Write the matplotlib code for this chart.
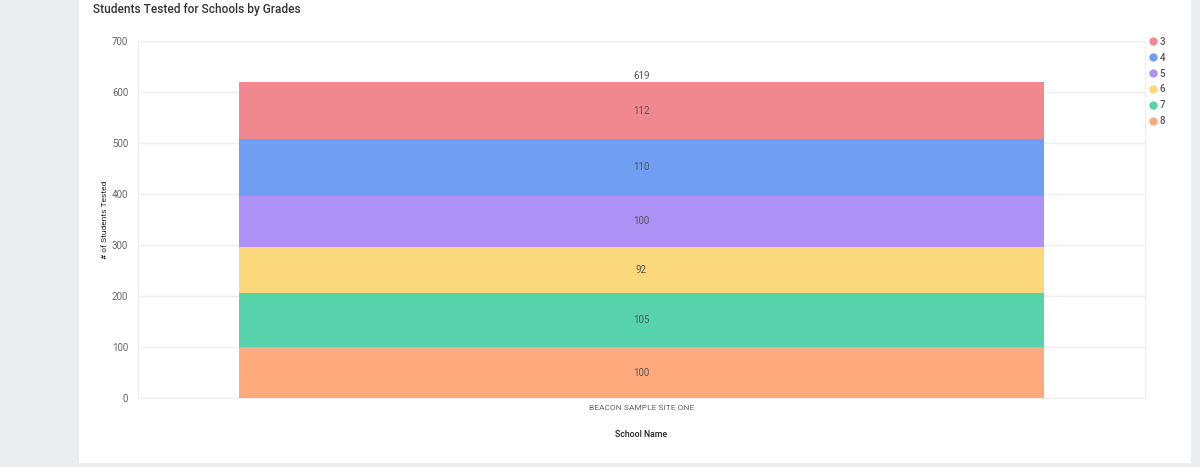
import matplotlib.pyplot as plt
from matplotlib.patches import Rectangle
from matplotlib.lines import Line2D
import numpy as np

plt.rcParams['font.family'] = ['Roboto', 'DejaVu Sans']

# data
schools = ['BEACON SAMPLE SITE ONE']
grades = ['3', '4', '5', '6', '7', '8']
# values per grade (top to bottom in the stack: 3 on top, 8 at bottom)
grade_values = {
    '3': [112],
    '4': [110],
    '5': [100],
    '6': [92],
    '7': [105],
    '8': [100],
}
grade_colors = {
    '3': '#F2888F',
    '4': '#6F9EF2',
    '5': '#AE91F5',
    '6': '#FBD87B',
    '7': '#57D3AB',
    '8': '#FFA97C',
}

fig = plt.figure(figsize=(12, 4.67), dpi=100)
fig.patch.set_facecolor('#EBEEF1')
# white card behind everything
fig.patches.append(Rectangle((79 / 1200, 1 - 463 / 467), (1191 - 79) / 1200, 463 / 467,
                             transform=fig.transFigure, facecolor='white',
                             edgecolor='none', zorder=-5))

ax = fig.add_axes([138 / 1200, 1 - 398 / 467, (1145 - 138) / 1200, (398 - 41) / 467])
ax.set_zorder(1)
ax.set_facecolor('white')

x = np.arange(len(schools))
bottom = np.zeros(len(schools))
# stack from grade 8 upward
for g in reversed(grades):
    vals = np.array(grade_values[g], dtype=float)
    ax.bar(x, vals, width=0.8, bottom=bottom, color=grade_colors[g], zorder=2)
    for i, v in enumerate(vals):
        ax.text(x[i], bottom[i] + v / 2, f'{int(v)}', ha='center', va='center',
                fontsize=7, color='#555555', zorder=3)
    bottom += vals

for i, tot in enumerate(bottom):
    ax.text(x[i], tot + 3, f'{int(tot)}', ha='center', va='bottom',
            fontsize=7, color='#555555')

ax.set_xlim(-0.5, 0.5)
ax.set_ylim(0, 700)
ax.set_yticks(np.arange(0, 701, 100))
ax.grid(axis='y', color='#EEEEEE', linewidth=1, zorder=0)
ax.set_axisbelow(True)
for s in ax.spines.values():
    s.set_color('#EEEEEE')
ax.tick_params(axis='both', length=0, labelsize=7, labelcolor='#666666')
ax.tick_params(axis='y', pad=7)
ax.tick_params(axis='x', labelsize=6, pad=5)
ax.set_xticks(x)
ax.set_xticklabels(schools)

ax.set_ylabel('# of Students Tested', fontsize=6, color='#222222', labelpad=3)
ax.set_xlabel('School Name', fontsize=6.3, color='#222222', fontweight='medium', labelpad=14)

fig.text(93 / 1200, 1 - 10 / 467, 'Students Tested for Schools by Grades', fontsize=8.6,
         color='#333333', fontweight='medium', ha='left', va='center')

handles = [Line2D([0], [0], marker='o', linestyle='none', markersize=6,
                  markerfacecolor=grade_colors[g], markeredgecolor='none') for g in grades]
leg = fig.legend(handles, grades, loc='upper left', bbox_to_anchor=(1143 / 1200, 1 - 33 / 467),
                 frameon=False, fontsize=7, labelspacing=0.6, handletextpad=0.1,
                 handlelength=1.2, borderaxespad=0)
for t in leg.get_texts():
    t.set_color('#555555')
    t.set_fontweight('medium')

fig.savefig('out.png', dpi=100, facecolor=fig.get_facecolor())
